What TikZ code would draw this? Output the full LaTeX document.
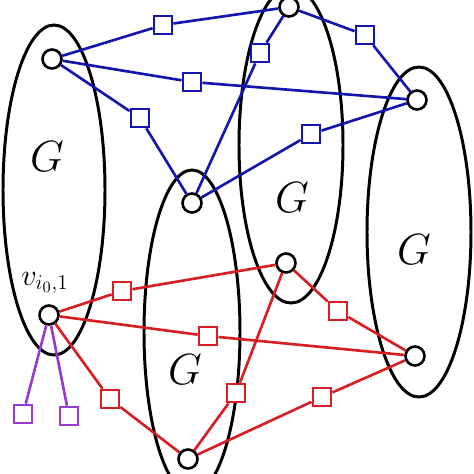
\documentclass[tikz,border=0pt]{standalone}
\usepackage{tikz}
\usetikzlibrary{positioning}
\definecolor{edgeblue}{RGB}{20, 20, 175}
\definecolor{edgered}{RGB}{215, 30, 35}
\definecolor{edgepurple}{RGB}{150, 60, 205}

\begin{document}
\begin{tikzpicture}[x=0.02cm, y=-0.02cm,
    vert/.style={circle, draw=black, fill=white, line width=1.5pt, minimum size=0.38cm, inner sep=0pt},
    sub/.style={rectangle, draw=#1, fill=white, line width=1.3pt, minimum size=0.37cm, inner sep=0pt},
    blueline/.style={edgeblue, line width=1.5pt},
    redline/.style={edgered, line width=1.5pt},
    purpleline/.style={edgepurple, line width=1.5pt},
    copy/.style={line width=1.7pt},
    glabel/.style={font=\fontsize{30}{32}\selectfont}]
  \useasboundingbox (0,0) rectangle (474,474);

  % the four copies of G
  \draw[copy] (54,190) ellipse [x radius=51, y radius=165];
  \draw[copy] (192,332) ellipse [x radius=48, y radius=162];
  \draw[copy] (291,145) ellipse [x radius=52, y radius=158];
  \draw[copy] (419,232) ellipse [x radius=52, y radius=165];
  \node[glabel] (g1) at (47,157) {$G$};
  \node[glabel] (g2) at (185,370) {$G$};
  \node[glabel] (g3) at (292,198) {$G$};
  \node[glabel] (g4) at (414,250) {$G$};

  % vertices
  \node[vert] (a) at (52,59) {};
  \node[vert] (b) at (192,203) {};
  \node[vert] (c) at (289,7) {};
  \node[vert] (d) at (417,100) {};
  \node[vert] (v) at (49,315) {};
  \node[vert] (f) at (188,459) {};
  \node[vert] (h) at (286,263) {};
  \node[vert] (i) at (415,356) {};
  \node[font=\fontsize{18}{20}\selectfont] (vlab) at (45,283) {$v_{i_0,1}$};

  % upper clique
  \node[sub=edgeblue] (ac) at (163,25) {};
  \node[sub=edgeblue] (ad) at (192,82) {};
  \node[sub=edgeblue] (ab) at (140,118) {};
  \node[sub=edgeblue] (bc) at (260,53) {};
  \node[sub=edgeblue] (cd) at (365,35) {};
  \node[sub=edgeblue] (bd) at (311,134) {};
  \draw[blueline] (a) -- (ac) -- (c);
  \draw[blueline] (a) -- (ad) -- (d);
  \draw[blueline] (a) -- (ab) -- (b);
  \draw[blueline] (b) -- (bc) -- (c);
  \draw[blueline] (c) -- (cd) -- (d);
  \draw[blueline] (b) -- (bd) -- (d);

  % lower clique
  \node[sub=edgered] (vh) at (122,291) {};
  \node[sub=edgered] (vi) at (208,336) {};
  \node[sub=edgered] (vf) at (110,399) {};
  \node[sub=edgered] (fh) at (236,393) {};
  \node[sub=edgered] (fi) at (322,397) {};
  \node[sub=edgered] (hi) at (338,311) {};
  \draw[redline] (v) -- (vh) -- (h);
  \draw[redline] (v) -- (vi) -- (i);
  \draw[redline] (v) -- (vf) -- (f);
  \draw[redline] (f) -- (fh) -- (h);
  \draw[redline] (f) -- (fi) -- (i);
  \draw[redline] (h) -- (hi) -- (i);

  % pendant squares
  \node[sub=edgepurple] (p1) at (23,414) {};
  \node[sub=edgepurple] (p2) at (69,416) {};
  \draw[purpleline] (v) -- (p1);
  \draw[purpleline] (v) -- (p2);
\end{tikzpicture}
\end{document}
